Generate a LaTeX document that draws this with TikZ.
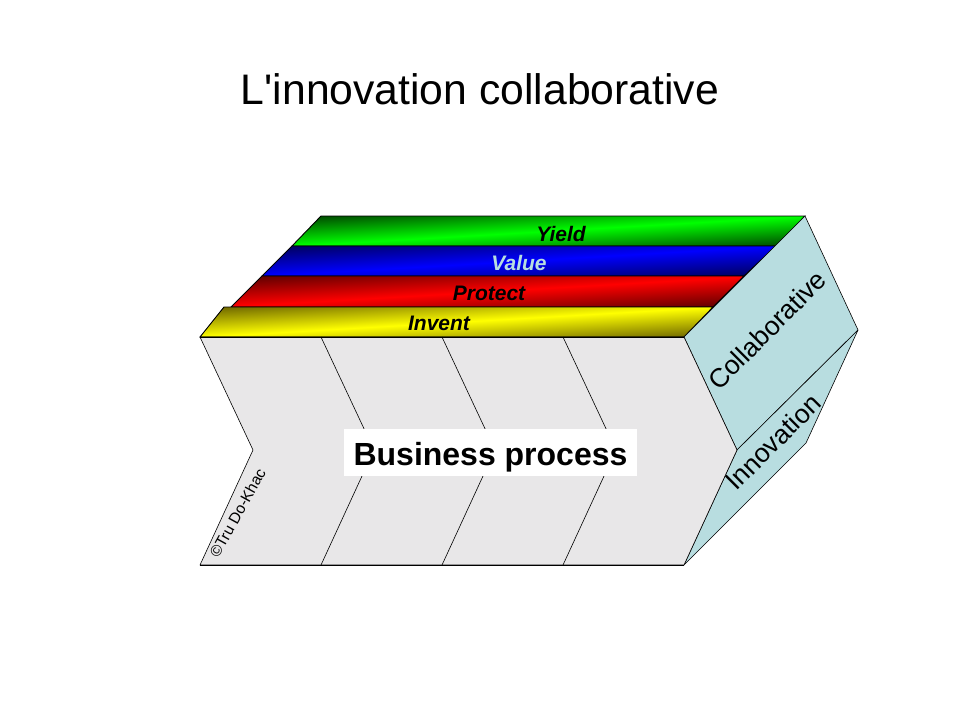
\documentclass[tikz,border=0pt]{standalone}
\usepackage{fontspec}
\setmainfont{Liberation Sans}[Ligatures=TeXOff]
\usepackage{tikz}
\usetikzlibrary{positioning}
\definecolor{mgrey}{rgb}{0.91, 0.905, 0.91}
\definecolor{mblue}{rgb}{0.72, 0.865, 0.88}
\definecolor{dyellow}{rgb}{0.45, 0.42, 0}
\definecolor{dred}{rgb}{0.38, 0, 0}
\definecolor{dblue}{rgb}{0, 0, 0.38}
\definecolor{dgreen}{rgb}{0, 0.3, 0}
\tikzset{
  face/.style = {draw, line width = 0.6pt, line join = round},
  band/.style 2 args = {draw, line width = 0.9pt, top color = #2, bottom color = #2, middle color = #1, shading angle = 3.35},
  bandlabel/.style = {font = \bfseries\itshape\fontsize{21}{21}\selectfont, inner sep = 0},
  sidelabel/.style = {font = \fontsize{26.5}{26.5}\selectfont, inner sep = 0, rotate = 45}
}

\begin{document}
\begin{tikzpicture}[x=1pt, y=-1pt]
    \useasboundingbox (0, 0) rectangle (960, 720);

    \node [inner sep = 0, font = \fontsize{42.7}{42.7}\selectfont] (title) at (480, 89) {L'innovation collaborative};

    % top bands
    \shade [band={green}{dgreen}] (321, 216) -- (805, 216) -- (776, 246) -- (292, 246) -- cycle;
    \shade [band={blue}{dblue}] (292, 246) -- (776, 246) -- (744, 276) -- (262, 276) -- cycle;
    \shade [band={red}{dred}] (262, 276) -- (744, 276) -- (713, 307) -- (231, 307) -- cycle;
    \shade [band={yellow}{dyellow}] (224, 307) -- (713, 307) -- (684, 337) -- (200, 337) -- cycle;

    % side faces
    \draw [face, fill=mblue] (684, 337) -- (805, 216) -- (858, 330) -- (737, 450) -- cycle;
    \draw [face, fill=mblue] (737, 450) -- (858, 330) -- (806, 443) -- (684, 565) -- cycle;

    % front with the chevrons
    \draw [face, fill=mgrey] (200, 337) -- (684, 337) -- (737, 450) -- (684, 565) -- (200, 565) -- (253, 450) -- cycle;
    \draw [face] (321, 337) -- (374, 450) -- (321, 565);
    \draw [face] (442, 337) -- (495, 450) -- (442, 565);
    \draw [face] (563, 337) -- (616, 450) -- (563, 565);
    \draw [line width = 0.9pt] (200, 337) -- (684, 337);
    \draw [line width = 0.9pt] (200, 565) -- (684, 565);

    \node [bandlabel] (yield) at (561, 234) {Yield};
    \node [bandlabel, text=mblue] (value) at (519, 263) {Value};
    \node [bandlabel] (protect) at (489, 293) {Protect};
    \node [bandlabel] (invent) at (439, 323) {Invent};

    \node [fill=white, minimum width = 293, text height = 36, text depth = 11, inner sep = 0, font = \bfseries\fontsize{32}{32}\selectfont] (process) at (490.5, 452.5) {Business process};

    \node [sidelabel] (collab) at (767, 330) {Collaborative};
    \node [sidelabel] (innov) at (773, 442) {Innovation};
    \node [inner sep = 0, rotate = 61, font = \fontsize{15.5}{15.5}\selectfont] (copy) at (237.5, 513) {©Tru Do-Khac};
\end{tikzpicture}
\end{document}
